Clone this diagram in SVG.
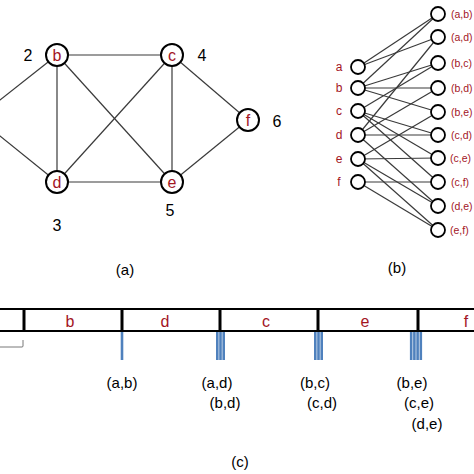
<svg xmlns="http://www.w3.org/2000/svg" width="474" height="474" viewBox="0 0 474 474">
<style>
.e{stroke:#3a3a3a;stroke-width:1.2;fill:none}
.n{fill:#fff;stroke:#000;stroke-width:2}
.bn{fill:#fff;stroke:#000;stroke-width:1.8}
.rl{font-family:"Liberation Sans",Arial,sans-serif;fill:#a3151f;text-anchor:middle}
.rr{font-family:"Liberation Sans",Arial,sans-serif;fill:#a3151f;text-anchor:start;font-size:10.5px}
.bl{font-family:"Liberation Sans",Arial,sans-serif;fill:#000;text-anchor:middle}
.tk{stroke:#4f81bd;stroke-width:2.6}
.box{fill:#fff;stroke:#000;stroke-width:2}
</style>
<rect width="474" height="474" fill="#fff"/>
<g id="connectors-a">
<line class="e" x1="57" y1="55" x2="-5" y2="104"/>
<line class="e" x1="57" y1="182" x2="-5" y2="132"/>
<line class="e" x1="57" y1="55" x2="172" y2="55"/>
<line class="e" x1="57" y1="55" x2="57" y2="182"/>
<line class="e" x1="57" y1="55" x2="172" y2="182"/>
<line class="e" x1="172" y1="55" x2="57" y2="182"/>
<line class="e" x1="172" y1="55" x2="172" y2="182"/>
<line class="e" x1="172" y1="55" x2="248" y2="120"/>
<line class="e" x1="57" y1="182" x2="172" y2="182"/>
<line class="e" x1="172" y1="182" x2="248" y2="120"/>
</g>
<g id="node-b"><circle class="n" cx="57" cy="55" r="11"/><text class="rl" x="57" y="61" font-size="16">b</text><text class="bl" x="28" y="61" font-size="16">2</text></g>
<g id="node-c"><circle class="n" cx="172" cy="55" r="11"/><text class="rl" x="172" y="61" font-size="16">c</text><text class="bl" x="202" y="61" font-size="16">4</text></g>
<g id="node-d"><circle class="n" cx="57" cy="182" r="11"/><text class="rl" x="57" y="188" font-size="16">d</text><text class="bl" x="57" y="231" font-size="16">3</text></g>
<g id="node-e"><circle class="n" cx="172" cy="182" r="11"/><text class="rl" x="172" y="188" font-size="16">e</text><text class="bl" x="170" y="216" font-size="16">5</text></g>
<g id="node-f"><circle class="n" cx="248" cy="120" r="11"/><text class="rl" x="248" y="126" font-size="16">f</text><text class="bl" x="277" y="127" font-size="16">6</text></g>
<text class="bl" x="125" y="275" font-size="15">(a)</text>

<g id="connectors-b">
<line class="e" x1="358" y1="67" x2="438" y2="14"/>
<line class="e" x1="358" y1="67" x2="438" y2="37"/>
<line class="e" x1="358" y1="88" x2="438" y2="14"/>
<line class="e" x1="358" y1="88" x2="438" y2="63"/>
<line class="e" x1="358" y1="88" x2="438" y2="88"/>
<line class="e" x1="358" y1="88" x2="438" y2="112"/>
<line class="e" x1="358" y1="111" x2="438" y2="63"/>
<line class="e" x1="358" y1="111" x2="438" y2="135"/>
<line class="e" x1="358" y1="111" x2="438" y2="158"/>
<line class="e" x1="358" y1="111" x2="438" y2="182"/>
<line class="e" x1="358" y1="135" x2="438" y2="37"/>
<line class="e" x1="358" y1="135" x2="438" y2="88"/>
<line class="e" x1="358" y1="135" x2="438" y2="135"/>
<line class="e" x1="358" y1="135" x2="438" y2="206"/>
<line class="e" x1="358" y1="159" x2="438" y2="112"/>
<line class="e" x1="358" y1="159" x2="438" y2="158"/>
<line class="e" x1="358" y1="159" x2="438" y2="206"/>
<line class="e" x1="358" y1="159" x2="438" y2="230"/>
<line class="e" x1="358" y1="182" x2="438" y2="182"/>
<line class="e" x1="358" y1="182" x2="438" y2="230"/>
</g>
<g id="left-a"><circle class="bn" cx="358" cy="67" r="7"/><text class="rl" x="339" y="71" font-size="12">a</text></g>
<g id="left-b"><circle class="bn" cx="358" cy="88" r="7"/><text class="rl" x="339" y="92" font-size="12">b</text></g>
<g id="left-c"><circle class="bn" cx="358" cy="111" r="7"/><text class="rl" x="339" y="115" font-size="12">c</text></g>
<g id="left-d"><circle class="bn" cx="358" cy="135" r="7"/><text class="rl" x="339" y="139" font-size="12">d</text></g>
<g id="left-e"><circle class="bn" cx="358" cy="159" r="7"/><text class="rl" x="339" y="163" font-size="12">e</text></g>
<g id="left-f"><circle class="bn" cx="358" cy="182" r="7"/><text class="rl" x="339" y="186" font-size="12">f</text></g>
<g id="right-1"><circle class="bn" cx="438" cy="14" r="7"/><text class="rr" x="451" y="18">(a,b)</text></g>
<g id="right-2"><circle class="bn" cx="438" cy="37" r="7"/><text class="rr" x="451" y="41">(a,d)</text></g>
<g id="right-3"><circle class="bn" cx="438" cy="63" r="7"/><text class="rr" x="451" y="67">(b,c)</text></g>
<g id="right-4"><circle class="bn" cx="438" cy="88" r="7"/><text class="rr" x="451" y="92">(b,d)</text></g>
<g id="right-5"><circle class="bn" cx="438" cy="112" r="7"/><text class="rr" x="451" y="116">(b,e)</text></g>
<g id="right-6"><circle class="bn" cx="438" cy="135" r="7"/><text class="rr" x="451" y="139">(c,d)</text></g>
<g id="right-7"><circle class="bn" cx="438" cy="158" r="7"/><text class="rr" x="450" y="162">(c,e)</text></g>
<g id="right-8"><circle class="bn" cx="438" cy="182" r="7"/><text class="rr" x="451" y="186">(c,f)</text></g>
<g id="right-9"><circle class="bn" cx="438" cy="206" r="7"/><text class="rr" x="451" y="210">(d,e)</text></g>
<g id="right-10"><circle class="bn" cx="438" cy="230" r="7"/><text class="rr" x="450" y="234">(e,f)</text></g>
<text class="bl" x="397" y="273" font-size="15">(b)</text>

<g id="strip">
<rect class="box" x="-5" y="309" width="29" height="22"/>
<rect class="box" x="24" y="309" width="98" height="22"/>
<rect class="box" x="122" y="309" width="98" height="22"/>
<rect class="box" x="220" y="309" width="98" height="22"/>
<rect class="box" x="318" y="309" width="100" height="22"/>
<rect class="box" x="418" y="309" width="70" height="22"/>
<line x1="24" y1="309" x2="24" y2="331" stroke="#000" stroke-width="3"/>
<line x1="122" y1="309" x2="122" y2="331" stroke="#000" stroke-width="3"/>
<line x1="220" y1="309" x2="220" y2="331" stroke="#000" stroke-width="3"/>
<line x1="318" y1="309" x2="318" y2="331" stroke="#000" stroke-width="3"/>
<line x1="418" y1="309" x2="418" y2="331" stroke="#000" stroke-width="3"/>
<text class="rl" x="70" y="327" font-size="16">b</text>
<text class="rl" x="165" y="327" font-size="16">d</text>
<text class="rl" x="266" y="327" font-size="16">c</text>
<text class="rl" x="365" y="327" font-size="16">e</text>
<text class="rl" x="466" y="327" font-size="16">f</text>
<path d="M0 347 H22 Q23 347 23 346 V340" fill="none" stroke="#555" stroke-width="0.8"/>
</g>
<g id="ticks">
<line class="tk" x1="122" y1="332" x2="122" y2="360" stroke-width="3"/>
<line class="tk" x1="217.3" y1="332" x2="217.3" y2="360"/>
<line class="tk" x1="220.5" y1="332" x2="220.5" y2="360"/>
<line class="tk" x1="223.7" y1="332" x2="223.7" y2="360"/>
<line class="tk" x1="315.3" y1="332" x2="315.3" y2="360"/>
<line class="tk" x1="318.5" y1="332" x2="318.5" y2="360"/>
<line class="tk" x1="321.7" y1="332" x2="321.7" y2="360"/>
<line class="tk" x1="411.2" y1="332" x2="411.2" y2="360"/>
<line class="tk" x1="414.4" y1="332" x2="414.4" y2="360"/>
<line class="tk" x1="417.6" y1="332" x2="417.6" y2="360"/>
<line class="tk" x1="420.8" y1="332" x2="420.8" y2="360"/>
</g>
<g font-size="15">
<text class="bl" x="122" y="388">(a,b)</text>
<text class="bl" x="217" y="388">(a,d)</text>
<text class="bl" x="225" y="408">(b,d)</text>
<text class="bl" x="315" y="388">(b,c)</text>
<text class="bl" x="322" y="408">(c,d)</text>
<text class="bl" x="412" y="388">(b,e)</text>
<text class="bl" x="419" y="408">(c,e)</text>
<text class="bl" x="427" y="429">(d,e)</text>
<text class="bl" x="240" y="467">(c)</text>
</g>
</svg>
